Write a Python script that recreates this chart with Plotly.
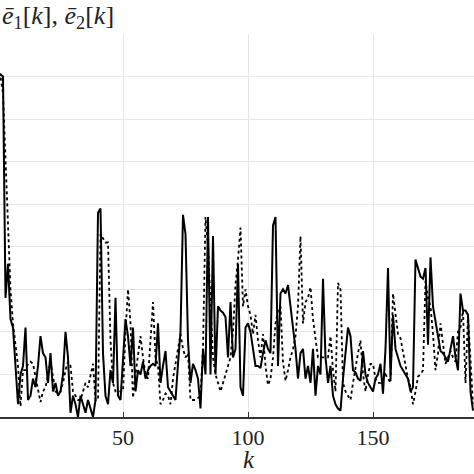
import plotly.graph_objects as go

# solid line: e1[k]
k_e1 = list(range(191))
e1 = [8.0, 8.05, 8.0, 2.8, 3.6, 2.3, 2.1, 1.2, 0.3, 1.0, 1.2, 2.1, 0.4, 0.5, 0.9, 0.7, 1.2, 1.9, 1.5, 1.4,
      0.8, 1.5, 0.6, 0.8, 0.5, 0.6, 1.0, 2.0, 1.4, 0.1, 0.5, 0.3, 0.0, 0.5, 0.3, 0.1, 0.4, 0.2, 0.0, 0.4,
      4.8, 4.9, 1.5, 0.5, 0.3, 1.1, 0.8, 2.8, 0.5, 0.4, 1.3, 2.3, 1.9, 1.2, 2.1, 0.6, 1.1, 1.0, 1.3, 0.9,
      1.1, 1.2, 1.25, 1.2, 2.2, 0.8, 1.2, 1.55, 0.7, 0.6, 0.5, 0.4, 1.25, 2.0, 4.75, 4.3, 1.8, 0.8, 1.25, 1.1,
      0.9, 0.2, 1.6, 1.0, 4.7, 1.0, 4.25, 1.0, 2.6, 2.5, 2.45, 2.35, 1.4, 2.7, 1.4, 1.6, 3.6, 0.7, 0.5, 2.1,
      2.2, 2.0, 1.6, 1.2, 1.2, 1.15, 1.5, 1.8, 1.6, 1.5, 4.5, 4.7, 1.2, 2.9, 3.0, 2.9, 3.1, 2.6, 2.1, 1.6,
      0.9, 1.5, 1.6, 0.9, 1.2, 0.8, 1.6, 0.5, 1.2, 1.0, 3.25, 1.4, 0.8, 1.2, 0.5, 0.3, 0.2, 0.15, 0.9, 1.5,
      2.1, 1.9, 1.1, 1.05, 0.9, 0.85, 1.55, 1.0, 0.8, 0.7, 0.6, 0.9, 1.0, 1.25, 0.55, 1.6, 3.5, 0.9, 2.4, 1.6,
      1.4, 1.2, 1.1, 1.0, 0.9, 0.6, 0.7, 3.7, 3.5, 3.3, 3.25, 3.5, 1.7, 3.75, 2.6, 2.25, 1.9, 1.55, 1.5, 1.4,
      1.3, 1.6, 1.9, 1.4, 1.1, 2.9, 2.5, 2.5, 2.4, 0.6, 0.15]

# dotted line: e2[k]
k_e2 = list(range(191))
e2 = [7.9, 8.0, 7.6, 6.0, 4.3, 3.0, 2.2, 1.7, 1.2, 0.25, 1.1, 1.1, 1.25, 1.3, 1.25, 0.95, 0.6, 0.35, 0.6, 0.7,
      1.0, 1.3, 0.95, 0.6, 0.55, 0.6, 0.8, 1.1, 1.3, 1.2, 0.6, 0.5, 0.4, 0.4, 0.6, 0.8, 0.7, 1.0, 1.25, 0.4,
      0.4, 4.3, 4.2, 4.1, 4.1, 1.8, 0.8, 0.6, 0.6, 0.6, 0.6, 2.0, 3.0, 2.2, 0.45, 1.0, 1.5, 1.9, 1.4, 1.0,
      0.9, 1.8, 2.7, 1.4, 1.2, 0.3, 0.4, 0.55, 0.5, 0.3, 0.9, 1.25, 1.6, 1.95, 1.6, 1.4, 1.5, 0.4, 0.4, 0.4,
      0.45, 0.5, 1.6, 4.7, 4.0, 2.5, 1.4, 1.0, 0.8, 0.6, 0.8, 1.0, 1.2, 1.4, 2.0, 3.1, 3.7, 4.45, 2.6, 3.0,
      2.6, 2.4, 1.95, 2.4, 1.8, 1.4, 1.95, 1.2, 0.75, 0.9, 1.4, 2.2, 2.5, 2.6, 1.3, 0.85, 1.1, 1.4, 1.6, 1.9,
      2.6, 4.25, 2.2, 2.7, 2.8, 3.05, 2.3, 1.8, 1.4, 1.4, 1.4, 1.4, 1.4, 1.9, 1.1, 0.6, 3.15, 3.0, 0.8, 0.6,
      0.5, 0.4, 0.8, 1.2, 1.5, 1.8, 1.0, 0.6, 1.0, 1.25, 1.25, 0.9, 0.8, 0.8, 0.9, 1.0, 0.9, 0.8, 2.9, 2.4,
      1.95, 1.85, 1.5, 1.25, 0.9, 0.7, 0.3, 0.6, 0.95, 1.0, 1.1, 3.2, 2.8, 2.6, 1.95, 1.1, 1.5, 2.2, 1.7, 1.25,
      1.4, 1.55, 1.4, 1.3, 2.0, 2.1, 2.5, 0.8, 2.4, 1.4, 0.3]

x_ticks = [0, 50, 100, 150]

serif = "Liberation Serif, DejaVu Serif, serif"

fig = go.Figure()
fig.add_trace(go.Scatter(x=k_e2, y=e2, mode="lines",
                         line=dict(color="black", width=1.8, dash="dot")))
fig.add_trace(go.Scatter(x=k_e1, y=e1, mode="lines",
                         line=dict(color="black", width=2)))

fig.update_layout(
    width=474, height=474,
    margin=dict(l=0, r=0, t=34, b=57, autoexpand=False),
    plot_bgcolor="white", paper_bgcolor="white",
    showlegend=False,
    font=dict(family=serif, color="#222", size=22),
)
fig.update_xaxes(range=[0.8, 190.4], tickvals=x_ticks, showgrid=True, gridcolor="#e6e6e6",
                 zeroline=False, showline=True, linecolor="#333", linewidth=1.5,
                 ticks="inside", ticklen=5, tickcolor="#333", automargin=False)
fig.update_yaxes(range=[0, 9], dtick=1, showgrid=True, gridcolor="#e6e6e6",
                 zeroline=False, showticklabels=False, showline=False, automargin=False)

fig.add_annotation(text="<i>k</i>", xref="paper", yref="paper", x=0.525, y=0,
                   yshift=-27, xanchor="center", yanchor="top", showarrow=False,
                   font=dict(family=serif, size=25, color="#222"))
fig.add_annotation(text="<i>ē</i><sub>1</sub>[<i>k</i>], <i>ē</i><sub>2</sub>[<i>k</i>]",
                   xref="paper", yref="paper", x=0, y=1, yshift=-1,
                   xanchor="left", yanchor="bottom", showarrow=False,
                   font=dict(family=serif, size=26, color="#222"))

# drop the default page margin so the figure fills the window
fig.write_html("out.html", config={"displayModeBar": False},
               post_script="document.body.style.margin='0';")
